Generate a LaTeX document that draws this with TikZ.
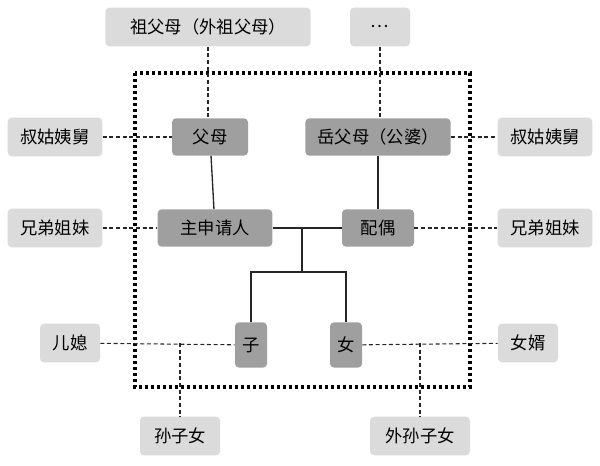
\documentclass[tikz,border=0pt]{standalone}
\usepackage{fontspec}
\setmainfont{Noto Sans CJK SC}
\begin{document}
\begin{tikzpicture}[x=0.75pt,y=-0.75pt,
 lt/.style={fill=gray!28,rounded corners=3pt,minimum height=29pt,inner sep=0pt,font=\fontsize{13}{13}\selectfont},
 dk/.style={fill=gray!75,rounded corners=3pt,minimum height=28pt,inner sep=0pt,font=\fontsize{13}{13}\selectfont},
 sl/.style={line width=1pt,gray!30!black},
 ds/.style={line width=0.8pt,dashed,dash pattern=on 3pt off 2pt,gray!30!black}]
\useasboundingbox (0,0) rectangle (600,466);
\draw[line width=2.5pt,dotted] (135,73) rectangle (470,387);
\node[lt,minimum width=154pt] (gp) at (208,27) {祖父母（外祖父母）};
\node[lt,minimum width=45pt] (dots) at (380,27) {…};
\node[dk,minimum width=57pt] (fm) at (210,137) {父母};
\node[dk,minimum width=109pt] (yf) at (378,137) {岳父母（公婆）};
\node[lt,minimum width=71pt] (sl1) at (55,137) {叔姑姨舅};
\node[lt,minimum width=71pt] (sr1) at (545,137) {叔姑姨舅};
\node[dk,minimum width=86pt] (me) at (215,228) {主申请人};
\node[dk,minimum width=54pt] (sp) at (378,228) {配偶};
\node[lt,minimum width=71pt] (bl) at (55,228) {兄弟姐妹};
\node[lt,minimum width=71pt] (br) at (545,228) {兄弟姐妹};
\node[dk,minimum width=24pt,minimum height=34pt] (son) at (251,345) {子};
\node[dk,minimum width=24pt,minimum height=34pt] (dau) at (346,345) {女};
\node[lt,minimum width=45pt] (dil) at (70,343) {儿媳};
\node[lt,minimum width=45pt] (sil) at (528,343) {女婿};
\node[lt,minimum width=60pt] (gc) at (180,436) {孙子女};
\node[lt,minimum width=75pt] (ggc) at (420,436) {外孙子女};
\draw[sl] (fm) -- (me);
\draw[sl] (yf) -- (sp);
\draw[sl] (me) -- (sp);
\coordinate (m) at (302,228);
\draw[sl] (m) -- (302,272) coordinate (j);
\draw[sl] (son.north) -- (son.north |- j) -- (dau.north |- j) -- (dau.north);
\draw[ds] (gp) -- (gp |- fm.north);
\draw[ds] (dots) -- (dots |- yf.north);
\draw[ds] (sl1) -- (fm);
\draw[ds] (yf) -- (sr1);
\draw[ds] (bl) -- (me);
\draw[ds] (sp) -- (br);
\draw[ds] (dil) -- (son);
\draw[ds] (gc |- dil) -- (gc);
\draw[ds] (dau) -- (sil);
\draw[ds] (ggc |- sil) -- (ggc);
\end{tikzpicture}
\end{document}
